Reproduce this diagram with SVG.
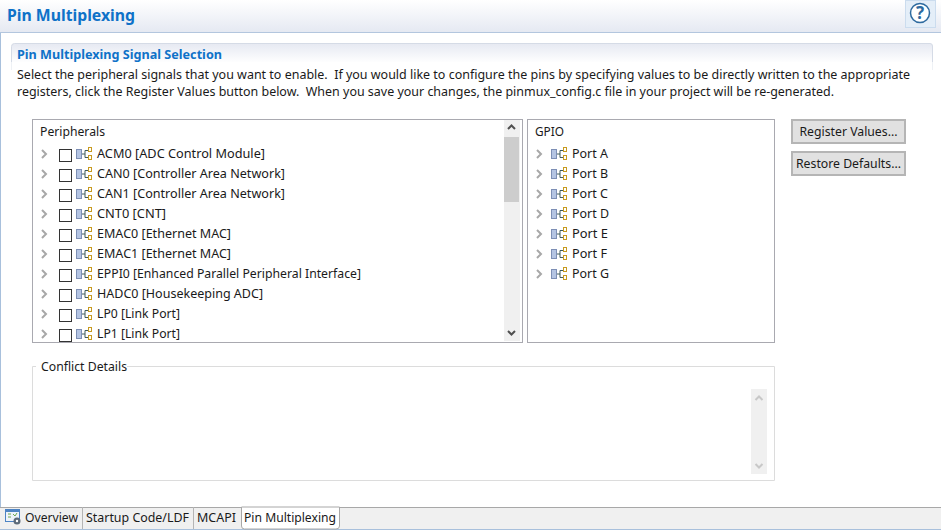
<svg xmlns="http://www.w3.org/2000/svg" width="941" height="530" viewBox="0 0 941 530">
<style>
text{font-family:"Noto Sans","DejaVu Sans",sans-serif;font-size:12px;fill:#1a1a1a;white-space:pre}
.h1{font-size:16px;font-weight:bold;fill:#0f72c8}
.h2{font-size:12px;font-weight:bold;fill:#0f72c8}
.box{fill:#fff;stroke:#a9a9b0;stroke-width:1}
.btn{fill:#e1e1e1;stroke:#b5b5b5;stroke-width:2}
.chev{fill:none;stroke:#a8a8a8;stroke-width:2}
.arr{fill:none;stroke:#505050;stroke-width:2}
.arrd{fill:none;stroke:#c8c8c8;stroke-width:2}
.cb{fill:#fff;stroke:#333;stroke-width:1}
</style>
<defs>
<linearGradient id="g1" x1="0" y1="0" x2="0" y2="1"><stop offset="0" stop-color="#fff"/><stop offset="1" stop-color="#e5e9f2"/></linearGradient>
<linearGradient id="g2" x1="0" y1="0" x2="0" y2="1"><stop offset="0" stop-color="#e6e9f2"/><stop offset="1" stop-color="#fff"/></linearGradient>
<g id="icon">
<rect x="0.500" y="-4.500" width="5" height="9" fill="#b4c4e2" stroke="#7d8fb5"/>
<path d="M6 0H9M9 -3.500V3.500M9 -3.500H12M9 3.500H12" fill="none" stroke="#3f5a5a"/>
<rect x="12.500" y="-6.500" width="3" height="4" fill="#fff" stroke="#c79a20"/>
<rect x="12.500" y="1.500" width="3" height="4" fill="#fff" stroke="#c79a20"/>
</g>
<path id="chev" class="chev" d="M0 -4L4 0L0 4"/>
</defs>
<rect width="941" height="530" fill="#fff"/>
<rect x="0" y="0" width="941" height="32" fill="url(#g1)"/>
<rect x="0" y="32" width="941" height="1" fill="#b3c6de"/>
<rect x="0" y="33" width="1" height="497" fill="#a8c0dc"/>
<text class="h1" x="7" y="21" textLength="128" lengthAdjust="spacingAndGlyphs">Pin Multiplexing</text>
<g id="help">
<rect x="905.500" y="0.500" width="30" height="27" fill="#e4eef8" stroke="#cbdcee"/>
<circle cx="920" cy="13" r="9.500" fill="#fff" stroke="#2d6a9f" stroke-width="1.500"/>
<text x="920" y="19" text-anchor="middle" style="font-size:17px;font-weight:bold;fill:#2d6a9f">?</text>
</g>
<path d="M11.500 63V46.500Q11.500 43.500 14.500 43.500H930Q932.500 43.500 932.500 46V63" fill="url(#g2)" stroke="none"/>
<path d="M11.500 70V46.500Q11.500 43.500 14.500 43.500H930Q932.500 43.500 932.500 46V70" fill="none" stroke="#d5dbe6"/>
<rect x="10" y="62" width="925" height="9" fill="#fff" opacity="0.600"/>
<text class="h2" x="17" y="59" textLength="205" lengthAdjust="spacingAndGlyphs">Pin Multiplexing Signal Selection</text>
<text x="17" y="79" textLength="893" lengthAdjust="spacingAndGlyphs">Select the peripheral signals that you want to enable.  If you would like to configure the pins by specifying values to be directly written to the appropriate</text>
<text x="17" y="96" textLength="817" lengthAdjust="spacingAndGlyphs">registers, click the Register Values button below.  When you save your changes, the pinmux_config.c file in your project will be re-generated.</text>

<g id="peripherals">
<rect class="box" x="32.500" y="119.500" width="490" height="223"/>
<rect x="504" y="120" width="16" height="221" fill="#f0f0f0"/>
<rect x="504" y="137" width="15" height="65" fill="#cdcdcd"/>
<path class="arr" d="M508 129L511.500 125.500L515 129"/>
<path class="arr" d="M508 331L511.500 334.500L515 331"/>
<text x="40" y="136" textLength="65" lengthAdjust="spacingAndGlyphs">Peripherals</text>
</g>
<g id="peripheral-rows">
<use href="#chev" x="42" y="154"/><rect class="cb" x="59.500" y="149.500" width="12" height="12"/><use href="#icon" x="76" y="154"/><text x="97" y="158" textLength="168" lengthAdjust="spacingAndGlyphs">ACM0 [ADC Control Module]</text>
<use href="#chev" x="42" y="174"/><rect class="cb" x="59.500" y="169.500" width="12" height="12"/><use href="#icon" x="76" y="174"/><text x="97" y="178" textLength="188" lengthAdjust="spacingAndGlyphs">CAN0 [Controller Area Network]</text>
<use href="#chev" x="42" y="194"/><rect class="cb" x="59.500" y="189.500" width="12" height="12"/><use href="#icon" x="76" y="194"/><text x="97" y="198" textLength="188" lengthAdjust="spacingAndGlyphs">CAN1 [Controller Area Network]</text>
<use href="#chev" x="42" y="214"/><rect class="cb" x="59.500" y="209.500" width="12" height="12"/><use href="#icon" x="76" y="214"/><text x="97" y="218" textLength="69" lengthAdjust="spacingAndGlyphs">CNT0 [CNT]</text>
<use href="#chev" x="42" y="234"/><rect class="cb" x="59.500" y="229.500" width="12" height="12"/><use href="#icon" x="76" y="234"/><text x="97" y="238" textLength="134" lengthAdjust="spacingAndGlyphs">EMAC0 [Ethernet MAC]</text>
<use href="#chev" x="42" y="254"/><rect class="cb" x="59.500" y="249.500" width="12" height="12"/><use href="#icon" x="76" y="254"/><text x="97" y="258" textLength="134" lengthAdjust="spacingAndGlyphs">EMAC1 [Ethernet MAC]</text>
<use href="#chev" x="42" y="274"/><rect class="cb" x="59.500" y="269.500" width="12" height="12"/><use href="#icon" x="76" y="274"/><text x="97" y="278" textLength="264" lengthAdjust="spacingAndGlyphs">EPPI0 [Enhanced Parallel Peripheral Interface]</text>
<use href="#chev" x="42" y="294"/><rect class="cb" x="59.500" y="289.500" width="12" height="12"/><use href="#icon" x="76" y="294"/><text x="97" y="298" textLength="166" lengthAdjust="spacingAndGlyphs">HADC0 [Housekeeping ADC]</text>
<use href="#chev" x="42" y="314"/><rect class="cb" x="59.500" y="309.500" width="12" height="12"/><use href="#icon" x="76" y="314"/><text x="97" y="318" textLength="83" lengthAdjust="spacingAndGlyphs">LP0 [Link Port]</text>
<use href="#chev" x="42" y="334"/><rect class="cb" x="59.500" y="329.500" width="12" height="12"/><use href="#icon" x="76" y="334"/><text x="97" y="338" textLength="83" lengthAdjust="spacingAndGlyphs">LP1 [Link Port]</text>
</g>
<rect x="33" y="342" width="489" height="1" fill="#a9a9b0"/>

<g id="gpio">
<rect class="box" x="527.500" y="119.500" width="247" height="223"/>
<text x="535" y="136" textLength="29" lengthAdjust="spacingAndGlyphs">GPIO</text>
<use href="#chev" x="537" y="154"/><use href="#icon" x="551" y="154"/><text x="572" y="158" textLength="36" lengthAdjust="spacingAndGlyphs">Port A</text>
<use href="#chev" x="537" y="174"/><use href="#icon" x="551" y="174"/><text x="572" y="178" textLength="36" lengthAdjust="spacingAndGlyphs">Port B</text>
<use href="#chev" x="537" y="194"/><use href="#icon" x="551" y="194"/><text x="572" y="198" textLength="36" lengthAdjust="spacingAndGlyphs">Port C</text>
<use href="#chev" x="537" y="214"/><use href="#icon" x="551" y="214"/><text x="572" y="218" textLength="37" lengthAdjust="spacingAndGlyphs">Port D</text>
<use href="#chev" x="537" y="234"/><use href="#icon" x="551" y="234"/><text x="572" y="238" textLength="36" lengthAdjust="spacingAndGlyphs">Port E</text>
<use href="#chev" x="537" y="254"/><use href="#icon" x="551" y="254"/><text x="572" y="258" textLength="35" lengthAdjust="spacingAndGlyphs">Port F</text>
<use href="#chev" x="537" y="274"/><use href="#icon" x="551" y="274"/><text x="572" y="278" textLength="37" lengthAdjust="spacingAndGlyphs">Port G</text>
</g>

<g id="btn-register"><rect class="btn" x="792" y="120" width="113" height="23"/><text x="848.500" y="136" text-anchor="middle" textLength="98" lengthAdjust="spacingAndGlyphs">Register Values...</text></g>
<g id="btn-restore"><rect class="btn" x="792" y="152" width="113" height="23"/><text x="848.500" y="168" text-anchor="middle" textLength="105" lengthAdjust="spacingAndGlyphs">Restore Defaults...</text></g>

<g id="conflict">
<path d="M127 366.500H774.500V480.500H32.500V366.500H36" fill="none" stroke="#dcdcdc"/>
<text x="41" y="371" textLength="86" lengthAdjust="spacingAndGlyphs">Conflict Details</text>
<rect x="751" y="389" width="16" height="85" fill="#f0f0f0"/>
<path class="arrd" d="M755.500 400L759 396.500L762.500 400"/>
<path class="arrd" d="M755.500 464L759 467.500L762.500 464"/>
</g>

<g id="tabs">
<rect x="0" y="507" width="941" height="23" fill="#f0f0f0"/>
<rect x="0" y="507" width="941" height="1" fill="#a8a8a8"/>
<rect x="0" y="529" width="941" height="1" fill="#a8c0dc"/>
<path d="M82.500 507V529M193.500 507V529" stroke="#b5b5b5" fill="none"/>
<path d="M241.500 507V526Q241.500 529 244.500 529H336Q339.500 529 339.500 526V507Z" fill="#fff" stroke="#a8a8a8"/>
<g id="overview-icon">
<rect x="5.500" y="509.500" width="14" height="12" fill="#eef3fa" stroke="#4d84c4"/>
<rect x="5" y="509" width="15" height="3" fill="#4d84c4"/>
<path d="M8 514H11M8 517H11M13 514L15 516L17 513" fill="none" stroke="#6aa84f"/>
<circle cx="17" cy="521" r="3.500" fill="#5d6b7a"/>
<circle cx="17" cy="521" r="1.200" fill="#fff"/>
</g>
<text x="25" y="522" textLength="53" lengthAdjust="spacingAndGlyphs">Overview</text>
<text x="86" y="522" textLength="103" lengthAdjust="spacingAndGlyphs">Startup Code/LDF</text>
<text x="197" y="522" textLength="39" lengthAdjust="spacingAndGlyphs">MCAPI</text>
<text x="244" y="522" textLength="92" lengthAdjust="spacingAndGlyphs">Pin Multiplexing</text>
</g>
</svg>
